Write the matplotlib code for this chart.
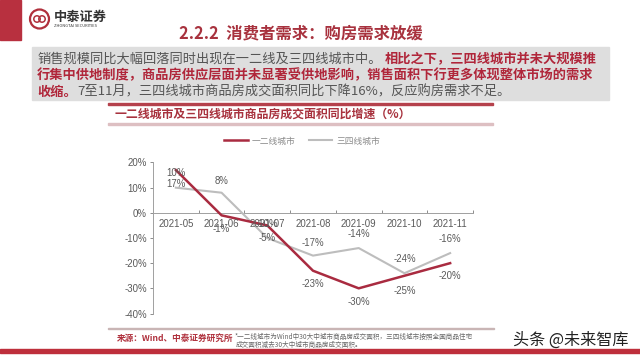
import matplotlib
matplotlib.use("Agg")
import matplotlib.pyplot as plt
from matplotlib.patches import Rectangle, Circle

plt.rcParams['font.family'] = ['Noto Sans CJK SC', 'DejaVu Sans']

categories = ['2021-05', '2021-06', '2021-07', '2021-08', '2021-09', '2021-10', '2021-11']
tier12 = [17, -1, -5, -23, -30, -25, -20]
tier34 = [10, 8, -10, -17, -14, -24, -16]
tier12_labels = ['10%', '-1%', '-10%', '-23%', '-30%', '-25%', '-20%']
tier34_labels = ['17%', '8%', '-5%', '-17%', '-14%', '-24%', '-16%']
tier12_offsets = [-3, -14, 1, -13, -14, -15, -13]
tier34_offsets = [4, 12, 0, 13, 14, 14, 14]
yticks = [20, 10, 0, -10, -20, -30, -40]

RED = '#B0253A'
GRAY = '#BDBDBD'
TXT = '#595959'
LATIN = ['Liberation Sans', 'DejaVu Sans']
W, H = 640, 360

fig = plt.figure(figsize=(6.4, 3.6), dpi=100, facecolor='white')
bg = fig.add_axes([0, 0, 1, 1])
bg.set_xlim(0, W)
bg.set_ylim(H, 0)
bg.axis('off')

bg.add_patch(Rectangle((0, 0), 21, 39.5, color='#B8303F'))
bg.add_patch(Rectangle((0, 348.5), W, 4.5, color='#BE2F3C'))
bg.add_patch(Rectangle((32, 47), 577, 53, color='#DEDEDE'))
bg.add_patch(Rectangle((108, 102.5), 385, 2, color='#B5414C'))
bg.add_patch(Rectangle((108, 123), 385, 1.5, color='#DDBFC2'))
bg.add_patch(Rectangle((108, 328), 386, 0.8, color='#C9B5B5'))

# logo
bg.add_patch(Circle((39.5, 19), 9.5, fill=False, ec='#B0303C', lw=1.6))
bg.add_patch(Circle((37, 19), 3.2, fill=False, ec='#B0303C', lw=1.1))
bg.add_patch(Circle((42, 19), 3.2, fill=False, ec='#B0303C', lw=1.1))
bg.text(54, 16.5, '中泰证券', fontsize=9.5, fontweight='bold', color='#333333', va='center', ha='left')
bg.text(54.5, 25.8, 'ZHONGTAI SECURITIES', fontsize=2.9, color='#333333', va='center', ha='left')

bg.text(179, 33, '2.2.2  消费者需求：购房需求放缓', fontsize=11.8, fontweight='bold',
        color='#A8323E', va='center', ha='left')

body = 9.5
bg.text(37, 59.5, '销售规模同比大幅回落同时出现在一二线及三四线城市中。', fontsize=body, color='#555555', va='center')
bg.text(385, 59.5, '相比之下，三四线城市并未大规模推', fontsize=body, color='#B0263A', va='center', fontweight='bold')
bg.text(37, 75.5, '行集中供地制度，商品房供应层面并未显著受供地影响，销售面积下行更多体现整体市场的需求',
        fontsize=body, color='#B0263A', va='center', fontweight='bold')
bg.text(37, 91.5, '收缩。', fontsize=body, color='#B0263A', va='center', fontweight='bold')
bg.text(77, 91.5, '7至11月，三四线城市商品房成交面积同比下降16%，反应购房需求不足。', fontsize=body, color='#555555', va='center')

bg.text(263, 114, '一二线城市及三四线城市商品房成交面积同比增速（%）', fontsize=8.6, color='#A8323E',
        va='center', ha='center', style='italic', fontweight='bold')

bg.text(117, 338.5, '来源：Wind、中泰证券研究所', fontsize=6.2, color='#B0323E', va='center', fontweight='bold')
bg.text(235, 337, '*一二线城市为Wind中30大中城市商品房成交面积，三四线城市按照全国商品住宅', fontsize=4.75, color='#666666', va='center')
bg.text(236, 345, '成交面积减去30大中城市商品房成交面积。', fontsize=4.75, color='#666666', va='center')
bg.text(513, 340.5, '头条 @未来智库', fontsize=11.6, color='#222222', va='center')

ax = fig.add_axes([153 / W, 1 - 313.5 / H, 320 / W, 151 / H])
ax.patch.set_alpha(0)
x = list(range(len(categories)))
ax.plot(x, tier34, color=GRAY, lw=1.5, label='三四线城市', zorder=3)
ax.plot(x, tier12, color='#A92B40', lw=1.8, label='一二线城市', zorder=4)
ax.set_xlim(-0.5, 6.5)
ax.set_ylim(-40, 20)
ax.set_yticks(yticks)
ax.set_yticklabels([f'{v}%' for v in yticks], fontsize=6.9, color=TXT, family=LATIN)
ax.set_xticks([i - 0.5 for i in range(8)])
ax.set_xticklabels([])
ax.tick_params(axis='both', length=2.5, width=0.7, color='#8C8C8C', pad=2)
ax.tick_params(axis='x', direction='in')
for s in ('top', 'right'):
    ax.spines[s].set_visible(False)
ax.spines['left'].set_color('#A0A0A0')
ax.spines['left'].set_linewidth(0.7)
ax.spines['bottom'].set_position(('data', 0))
ax.spines['bottom'].set_color('#A0A0A0')
ax.spines['bottom'].set_linewidth(0.7)

for i, c in enumerate(categories):
    ax.annotate(c, (i, 0), xytext=(0, -11), textcoords='offset pixels', ha='center', va='center',
                fontsize=6.9, color=TXT, zorder=5, family=LATIN)
for i in x:
    ax.annotate(tier12_labels[i], (i, tier12[i]), xytext=(0, tier12_offsets[i]), textcoords='offset pixels',
                ha='center', va='center', fontsize=6.9, color=TXT, zorder=6, family=LATIN)
    ax.annotate(tier34_labels[i], (i, tier34[i]), xytext=(0, tier34_offsets[i]), textcoords='offset pixels',
                ha='center', va='center', fontsize=6.9, color=TXT, zorder=6, family=LATIN)

h, l = ax.get_legend_handles_labels()
leg = fig.legend([h[1], h[0]], [l[1], l[0]], loc='center', bbox_to_anchor=(302 / W, 1 - 141 / H), ncol=2,
                 frameon=False, fontsize=6.3, labelcolor='#8A8A8A', columnspacing=1.5, handlelength=2.7,
                 handletextpad=0.45)

fig.savefig('out.png', dpi=100)
